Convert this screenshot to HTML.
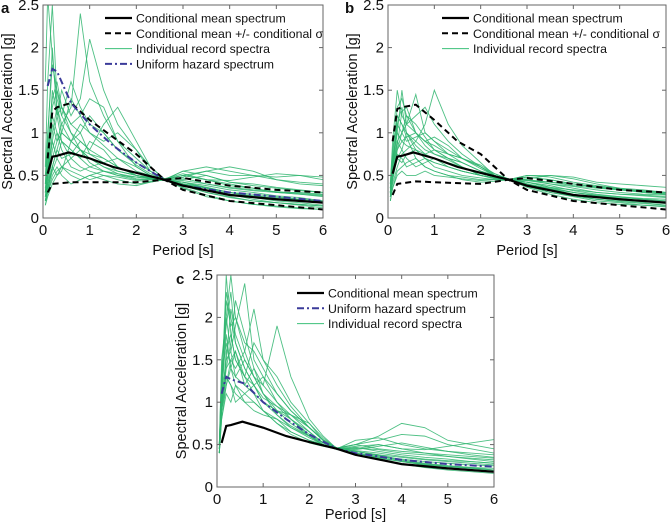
<!DOCTYPE html>
<html><head><meta charset="utf-8"><style>
body{margin:0;background:#fff;width:671px;height:523px;overflow:hidden;font-family:"Liberation Sans",sans-serif}
svg text{font-family:"Liberation Sans",sans-serif;fill:#111}
</style></head><body>
<svg id="s" width="671" height="523"></svg>
<script>
const periods=[0.05,0.1,0.2,0.3,0.4,0.6,0.8,1,1.3,1.6,2,2.3,2.6,3,3.5,4,4.5,5,5.5,6];
const recordsA=[
[0.3,0.6,1.2,1.0,0.9,0.8,0.7,0.6,0.55,0.5,0.45,0.45,0.45,0.5,0.45,0.4,0.35,0.3,0.28,0.25],
[0.6,1.6,2.5,1.4,1.2,1.0,0.9,0.8,0.7,0.6,0.5,0.48,0.45,0.4,0.35,0.3,0.25,0.22,0.2,0.18],
[0.2,0.4,0.7,0.9,1.1,1.3,2.4,1.6,1.2,0.9,0.6,0.5,0.44,0.42,0.38,0.33,0.3,0.26,0.24,0.2],
[0.3,0.5,0.9,1.2,1.5,1.2,1.4,2.1,1.5,1.1,0.8,0.6,0.46,0.45,0.5,0.42,0.38,0.35,0.32,0.3],
[0.2,0.3,0.5,0.6,0.5,0.4,0.45,0.5,0.45,0.4,0.38,0.42,0.45,0.55,0.6,0.55,0.5,0.48,0.5,0.45],
[0.4,0.8,1.4,1.6,1.3,1.1,1.0,1.2,1.0,0.8,0.65,0.55,0.45,0.38,0.3,0.25,0.2,0.18,0.16,0.14],
[0.25,0.4,0.6,0.8,0.7,0.75,0.9,0.8,1.1,1.3,0.9,0.6,0.46,0.4,0.36,0.3,0.28,0.25,0.22,0.2],
[0.3,0.5,1.0,1.3,1.0,0.9,1.1,1.0,0.9,1.0,0.8,0.55,0.44,0.48,0.55,0.5,0.5,0.45,0.42,0.4],
[0.15,0.25,0.4,0.5,0.6,0.7,0.6,0.55,0.5,0.45,0.4,0.42,0.45,0.42,0.35,0.28,0.24,0.2,0.18,0.15],
[0.35,0.7,1.1,0.9,1.0,1.4,1.2,1.0,0.85,0.7,0.6,0.5,0.45,0.35,0.25,0.2,0.16,0.14,0.12,0.1],
[0.2,0.35,0.55,0.7,0.9,0.8,0.7,0.9,0.8,0.6,0.5,0.47,0.45,0.5,0.55,0.6,0.55,0.45,0.4,0.38],
[0.5,1.0,1.8,1.5,1.3,1.0,0.8,0.7,0.6,0.55,0.5,0.47,0.45,0.4,0.32,0.28,0.22,0.18,0.15,0.12],
[0.25,0.45,0.8,1.0,0.8,0.6,0.55,0.6,0.65,0.7,0.55,0.5,0.46,0.52,0.45,0.38,0.35,0.3,0.3,0.28],
[0.3,0.55,0.9,0.7,0.6,0.55,0.5,0.45,0.5,0.48,0.44,0.43,0.45,0.47,0.4,0.35,0.32,0.3,0.28,0.26],
[0.2,0.3,0.6,0.5,0.55,0.9,1.0,0.75,0.7,0.6,0.5,0.46,0.44,0.38,0.3,0.24,0.2,0.18,0.16,0.14],
[0.4,0.9,2.0,1.2,0.9,0.7,0.8,0.65,0.55,0.5,0.48,0.46,0.45,0.55,0.5,0.42,0.4,0.36,0.33,0.3],
[1.6,2.6,1.9,1.3,1.1,0.9,0.8,0.75,0.65,0.55,0.5,0.47,0.45,0.42,0.36,0.3,0.26,0.23,0.21,0.19],
[0.25,0.5,1.3,1.5,1.2,1.6,1.3,1.1,1.0,0.8,0.62,0.52,0.45,0.44,0.4,0.36,0.33,0.31,0.29,0.27],
[0.2,0.35,0.6,0.8,1.0,0.9,0.8,0.7,0.6,0.52,0.46,0.45,0.45,0.36,0.27,0.2,0.16,0.13,0.11,0.1],
[0.3,0.6,1.5,1.2,1.3,1.1,1.2,1.4,1.3,0.9,0.7,0.55,0.46,0.5,0.45,0.44,0.48,0.52,0.5,0.48],
[0.15,0.3,0.45,0.55,0.6,0.5,0.45,0.5,0.55,0.52,0.48,0.46,0.44,0.4,0.33,0.28,0.26,0.24,0.22,0.2]];
const recordsB=[
[0.3,0.6,1.0,0.9,0.85,0.8,0.7,0.65,0.6,0.55,0.5,0.47,0.45,0.45,0.4,0.35,0.3,0.28,0.26,0.24],
[0.4,0.9,1.5,1.2,1.1,1.0,0.9,0.85,0.75,0.65,0.55,0.5,0.46,0.4,0.34,0.3,0.26,0.23,0.2,0.18],
[0.3,0.5,0.8,1.0,1.1,1.2,1.3,1.1,0.9,0.75,0.6,0.5,0.44,0.48,0.45,0.4,0.36,0.33,0.3,0.28],
[0.25,0.45,0.7,0.8,0.7,0.6,0.65,0.7,0.6,0.55,0.5,0.47,0.45,0.5,0.48,0.42,0.38,0.35,0.33,0.3],
[0.35,0.7,1.3,1.4,1.2,1.0,0.9,0.8,0.7,0.65,0.55,0.5,0.45,0.38,0.3,0.26,0.22,0.2,0.18,0.15],
[0.2,0.35,0.55,0.6,0.65,0.7,0.6,0.55,0.5,0.48,0.45,0.45,0.45,0.42,0.38,0.32,0.28,0.25,0.22,0.2],
[0.3,0.6,1.1,1.0,0.9,0.95,1.0,0.9,0.8,0.7,0.6,0.52,0.46,0.42,0.36,0.3,0.26,0.24,0.22,0.2],
[0.25,0.4,0.6,0.75,0.8,0.9,0.8,0.75,0.7,0.6,0.5,0.47,0.45,0.46,0.5,0.46,0.4,0.35,0.3,0.28],
[0.4,0.8,1.2,1.1,1.0,0.85,0.75,0.7,0.65,0.6,0.5,0.46,0.45,0.36,0.28,0.22,0.18,0.16,0.15,0.13],
[0.3,0.55,0.9,1.0,1.2,1.1,0.95,0.8,0.7,0.65,0.55,0.5,0.45,0.42,0.36,0.33,0.3,0.28,0.27,0.25],
[0.2,0.35,0.5,0.55,0.5,0.5,0.55,0.5,0.48,0.46,0.44,0.45,0.45,0.48,0.45,0.4,0.36,0.34,0.32,0.3],
[0.35,0.65,1.1,1.3,1.0,0.8,0.7,0.65,0.6,0.55,0.5,0.47,0.45,0.4,0.32,0.26,0.22,0.19,0.17,0.15],
[0.3,0.5,0.8,0.9,0.95,1.0,0.9,0.95,0.85,0.7,0.58,0.5,0.46,0.44,0.4,0.37,0.33,0.3,0.28,0.27],
[0.25,0.45,0.75,0.7,0.6,0.65,0.7,0.6,0.55,0.5,0.47,0.45,0.44,0.4,0.34,0.28,0.24,0.21,0.19,0.17],
[0.35,0.7,1.0,1.5,1.1,1.45,1.0,0.9,0.75,0.7,0.6,0.5,0.45,0.5,0.5,0.48,0.42,0.4,0.38,0.36],
[0.3,0.6,0.9,0.8,1.0,0.9,1.1,1.5,1.1,0.85,0.65,0.5,0.45,0.37,0.3,0.25,0.2,0.18,0.15,0.14],
[0.25,0.5,0.7,0.65,0.75,0.8,0.75,0.8,0.75,0.7,0.62,0.52,0.46,0.45,0.42,0.38,0.35,0.33,0.31,0.3],
[0.3,0.55,1.2,1.1,0.95,0.7,0.6,0.55,0.5,0.45,0.42,0.43,0.45,0.4,0.35,0.3,0.27,0.25,0.23,0.22],
[0.28,0.5,0.85,1.25,1.3,1.0,0.85,0.75,0.68,0.6,0.52,0.48,0.45,0.44,0.42,0.4,0.37,0.34,0.31,0.29]];
const recordsC=[
[0.4,1.1,2.5,1.8,1.5,1.3,1.1,0.9,0.8,0.65,0.55,0.5,0.45,0.42,0.38,0.32,0.28,0.25,0.23,0.2],
[0.5,1.4,1.9,2.3,1.7,1.4,1.2,1.0,0.9,0.75,0.6,0.5,0.44,0.45,0.5,0.45,0.4,0.36,0.33,0.3],
[0.45,1.0,1.5,1.6,1.9,2.4,1.5,1.3,1.0,0.8,0.65,0.52,0.46,0.5,0.55,0.62,0.6,0.5,0.45,0.4],
[0.4,0.8,1.2,1.4,1.3,1.2,1.4,1.2,1.9,1.3,0.8,0.6,0.45,0.4,0.35,0.3,0.26,0.24,0.22,0.2],
[0.5,1.2,2.2,1.9,2.0,1.6,1.3,1.1,0.9,0.8,0.6,0.5,0.45,0.5,0.6,0.75,0.7,0.55,0.5,0.45],
[0.45,0.9,1.3,1.2,1.1,1.0,0.9,0.85,0.8,0.7,0.58,0.5,0.46,0.4,0.35,0.3,0.26,0.22,0.2,0.18],
[0.4,0.9,1.6,1.8,1.5,1.3,1.2,1.3,1.1,0.9,0.7,0.55,0.45,0.48,0.5,0.45,0.44,0.48,0.52,0.56],
[0.5,1.1,1.4,1.5,1.4,1.6,2.1,1.5,1.2,0.95,0.7,0.55,0.46,0.42,0.38,0.35,0.32,0.3,0.28,0.26],
[0.4,0.8,1.1,1.0,1.2,1.1,1.0,0.9,0.75,0.65,0.55,0.5,0.45,0.38,0.32,0.27,0.23,0.2,0.18,0.16],
[0.45,1.0,2.0,1.6,1.3,1.5,1.3,1.2,1.0,0.85,0.65,0.52,0.45,0.55,0.58,0.5,0.45,0.42,0.4,0.38],
[0.5,1.3,1.7,1.4,1.6,1.2,1.1,1.0,0.9,0.85,0.75,0.55,0.44,0.47,0.42,0.38,0.35,0.33,0.3,0.28],
[0.4,0.9,1.4,1.7,2.2,1.8,1.4,1.1,0.85,0.7,0.6,0.52,0.46,0.44,0.48,0.52,0.47,0.42,0.38,0.35],
[0.45,1.0,1.3,1.2,1.0,1.1,1.2,1.05,0.95,0.8,0.62,0.52,0.45,0.4,0.34,0.3,0.27,0.24,0.22,0.2],
[0.5,1.2,2.3,2.0,1.7,1.4,1.2,1.0,0.85,0.72,0.6,0.5,0.45,0.43,0.4,0.36,0.33,0.31,0.3,0.28],
[0.5,1.5,2.0,2.5,2.0,1.7,1.6,1.4,1.1,0.9,0.7,0.55,0.46,0.5,0.45,0.42,0.4,0.38,0.36,0.34],
[0.4,0.9,1.2,1.5,1.6,1.3,1.7,1.5,1.3,1.0,0.75,0.58,0.45,0.4,0.36,0.33,0.3,0.28,0.26,0.25],
[0.45,1.1,1.8,1.4,1.2,1.0,1.0,0.9,0.75,0.62,0.52,0.48,0.45,0.46,0.44,0.4,0.38,0.36,0.34,0.32],
[0.4,1.0,1.5,2.1,1.8,1.5,1.3,1.1,0.95,0.85,0.7,0.56,0.46,0.42,0.37,0.31,0.27,0.25,0.23,0.22]];
const meanT=[0.1,0.2,0.3,0.55,1,1.5,2,2.6,3,4,5,6];
const meanV=[0.52,0.72,0.73,0.77,0.7,0.6,0.53,0.45,0.38,0.27,0.22,0.18];
const upT=[0.1,0.2,0.3,0.6,1,1.5,2,2.6,3,4,5,6];
const upA=[0.7,1.25,1.3,1.35,1.15,0.95,0.75,0.45,0.47,0.38,0.33,0.3];
const upB=[0.9,1.28,1.3,1.33,1.15,0.9,0.75,0.45,0.47,0.4,0.33,0.3];
const loT=[0.1,0.2,0.6,1,2,2.6,3,4,5,6];
const loA=[0.3,0.4,0.42,0.42,0.42,0.45,0.33,0.2,0.15,0.1];
const loB=[0.27,0.4,0.43,0.42,0.4,0.45,0.33,0.2,0.15,0.1];
const uhsT=[0.1,0.2,0.3,0.6,1,1.5,2,2.6,3,4,5,6];
const uhsA=[1.55,1.75,1.72,1.35,1.1,0.85,0.65,0.45,0.38,0.3,0.25,0.2];
const uhsC=[1.1,1.3,1.27,1.22,1.0,0.8,0.62,0.45,0.4,0.32,0.27,0.24];
const xTicks=[0,1,2,3,4,5,6];
const yTicks=[0,0.5,1,1.5,2,2.5];
const yTickLabels=["0","0.5","1","1.5","2","2.5"];

const NS="http://www.w3.org/2000/svg";
const svg=document.getElementById('s');
function mk(tag,attrs,parent){const e=document.createElementNS(NS,tag);for(const k in attrs)e.setAttribute(k,attrs[k]);(parent||svg).appendChild(e);return e;}

function panel(id,L,T,W,H,recs,lines,legend,letter,lx,ly,xtOff){
  const g=mk('g',{});
  
  
  const sx=v=>L+v/6*W, sy=v=>T+H-Math.min(v,2.5)/2.5*H;
  const cp=mk('clipPath',{id:'cp'+id},g);mk('rect',{x:L,y:T,width:W,height:H},cp);
  const dg=mk('g',{'clip-path':'url(#cp'+id+')'},g);
  recs.forEach((r,i)=>{
    const p=mk('polyline',{points:r.map((v,j)=>sx(periods[j])+','+(T+H-v/2.5*H)).join(' '),fill:'none',stroke:'#2fb56f','stroke-width':0.9,'stroke-opacity':0.85},dg);
    
    
  });
  lines.forEach(l=>{
    const a={points:l.t.map((t,j)=>sx(t)+','+sy(l.v[j])).join(' '),fill:'none',stroke:l.c,'stroke-width':l.w};
    if(l.d)a['stroke-dasharray']=l.d;
    const p=mk('polyline',a,dg);
    
    
  });
  const fr=mk('rect',{x:L,y:T,width:W,height:H,fill:'none',stroke:'#666','stroke-width':1},g);
  
  
  xTicks.forEach(t=>{
    mk('line',{x1:sx(t),x2:sx(t),y1:T+H,y2:T+H-4,stroke:'#666'},g);
    mk('line',{x1:sx(t),x2:sx(t),y1:T,y2:T+4,stroke:'#666'},g);
    const tx=mk('text',{x:sx(t),y:T+H+17,'text-anchor':'middle','font-size':15},g);tx.textContent=t;
    
    
  });
  yTicks.forEach((t,i)=>{
    mk('line',{x1:L,x2:L+4,y1:sy(t),y2:sy(t),stroke:'#666'},g);
    mk('line',{x1:L+W,x2:L+W-4,y1:sy(t),y2:sy(t),stroke:'#666'},g);
    const ty=mk('text',{x:L-4,y:sy(t)+5,'text-anchor':'end','font-size':15},g);ty.textContent=yTickLabels[i];
    
    
  });
  const xt=mk('text',{x:L+W/2,y:T+H+xtOff,'text-anchor':'middle','font-size':14.5},g);xt.textContent='Period [s]';
  
  
  const yt=mk('text',{x:0,y:0,'text-anchor':'middle','font-size':14.5,transform:'translate('+(L-31)+','+(T+H/2)+') rotate(-90)'},g);yt.textContent='Spectral Acceleration [g]';
  
  
  const lt=mk('text',{x:lx,y:ly,'font-size':15,'font-weight':'bold'},g);lt.textContent=letter;
  
  
  legend.items.forEach((it,i)=>{
    const y=legend.y+i*15.3;
    const a={x1:legend.x,x2:legend.x+27,y1:y,y2:y,stroke:it.c,'stroke-width':it.w};
    if(it.d)a['stroke-dasharray']=it.d;
    mk('line',a,g);
    const tt=mk('text',{x:legend.x+31,y:y+4.5,'font-size':12.3},g);tt.textContent=it.label;
    
    
  });
}
const BLK={c:'#000',w:2.2}, DSH={c:'#000',w:2,d:'6 4'}, GRN={c:'#3cc07a',w:1}, UHS={c:'#3b3b9a',w:2,d:'7 3 2 3'};
panel('a',43,5,280,213,recordsA,[
 {t:upT,v:upA,...DSH,n:'mean-plus-sigma'},{t:loT,v:loA,...DSH,n:'mean-minus-sigma'},
 {t:uhsT,v:uhsA,...UHS,n:'uniform-hazard-spectrum'},{t:meanT,v:meanV,...BLK,n:'conditional-mean-spectrum'}],
 {x:105,y:18,items:[{...BLK,label:'Conditional mean spectrum'},{...DSH,label:'Conditional mean +/- conditional σ'},{...GRN,label:'Individual record spectra'},{...UHS,label:'Uniform hazard spectrum'}]},'a',1,13,37);
panel('b',388,5,278,213,recordsB,[
 {t:upT,v:upB,...DSH,n:'mean-plus-sigma'},{t:loT,v:loB,...DSH,n:'mean-minus-sigma'},
 {t:meanT,v:meanV,...BLK,n:'conditional-mean-spectrum'}],
 {x:442,y:18,items:[{...BLK,label:'Conditional mean spectrum'},{...DSH,label:'Conditional mean +/- conditional σ'},{...GRN,label:'Individual record spectra'}]},'b',345,13,37);
panel('c',217,275,277,212,recordsC,[
 {t:uhsT,v:uhsC,...UHS,n:'uniform-hazard-spectrum'},{t:meanT,v:meanV,...BLK,n:'conditional-mean-spectrum'}],
 {x:297,y:293,items:[{...BLK,label:'Conditional mean spectrum'},{...UHS,label:'Uniform hazard spectrum'},{...GRN,label:'Individual record spectra'}]},'c',176,284,32);
</script>
</body></html>
